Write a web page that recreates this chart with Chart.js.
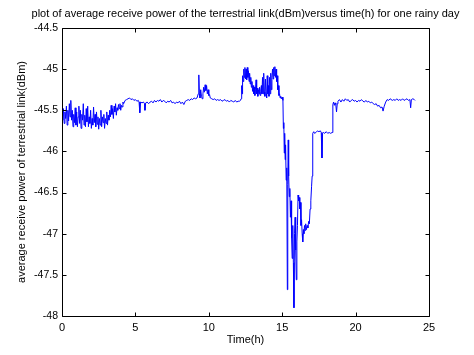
<!DOCTYPE html>
<html>
<head>
<meta charset="utf-8">
<script src="https://cdn.jsdelivr.net/npm/chart.js@4.4.1/dist/chart.umd.min.js"></script>
<style>
html,body{margin:0;padding:0;background:#fff;}
#c{display:block;}
</style>
</head>
<body>
<canvas id="c" width="474" height="355"></canvas>
<script>
const chartTitle = 'plot of average receive power of the terrestrial link(dBm)versus time(h) for one rainy day';
const xTitle = 'Time(h)';
const yTitle = 'average receive power of terrestrial link(dBm)';
const xTicks = [0, 5, 10, 15, 20, 25];
const yTicks = [-48, -47.5, -47, -46.5, -46, -45.5, -45, -44.5];

// time (h)
const times = [
0.00,0.05,0.10,0.15,0.20,0.25,0.30,0.35,0.40,0.45,0.50,0.55,0.60,0.65,0.70,0.75,0.80,0.85,0.90,0.95,
1.00,1.05,1.10,1.15,1.20,1.25,1.30,1.35,1.40,1.45,1.50,1.55,1.60,1.65,1.70,1.75,1.80,1.85,1.90,1.95,
2.00,2.05,2.10,2.15,2.20,2.25,2.30,2.35,2.40,2.45,2.50,2.55,2.60,2.65,2.70,2.75,2.80,2.85,2.90,2.95,
3.00,3.05,3.10,3.15,3.20,3.25,3.30,3.35,3.40,3.45,3.50,3.55,3.60,3.65,3.70,3.75,3.80,3.85,3.90,3.95,
4.00,4.05,4.10,4.15,4.20,4.30,4.40,4.50,
4.6,4.7,4.8,4.9,5.0,5.1,5.2,5.25,5.3,5.35,5.45,5.55,5.62,5.65,5.7,5.8,5.9,6.0,6.1,6.2,6.3,6.4,6.5,6.6,6.7,6.8,6.9,
7.0,7.1,7.2,7.3,7.4,7.5,7.6,7.7,7.8,7.9,8.0,8.1,8.2,8.3,8.4,8.5,8.6,8.7,8.8,8.9,9.0,9.1,9.2,
9.28,9.32,9.36,9.4,9.45,9.5,9.55,9.6,9.65,9.7,9.75,9.8,9.85,9.9,9.95,10.0,10.05,10.1,
10.2,10.3,10.4,10.5,10.6,10.7,10.8,10.9,11.0,11.1,11.2,11.3,11.4,11.5,11.6,11.7,11.8,11.9,12.0,12.1,
12.15,12.2,12.24,12.27,12.3,12.34,12.38,12.42,12.46,12.5,12.54,12.58,12.62,12.66,12.7,12.74,12.78,12.82,12.86,12.9,
12.94,12.98,13.02,13.06,13.1,13.14,13.18,13.22,13.26,13.3,13.34,13.38,13.42,13.46,13.5,13.54,13.58,13.62,13.66,13.7,
13.74,13.78,13.82,13.86,13.9,13.94,13.98,14.02,14.06,14.1,14.14,14.18,14.22,14.26,14.3,14.34,14.38,14.42,14.46,14.5,
14.54,14.58,14.62,14.66,14.7,14.74,14.78,14.82,14.86,14.9,14.95,15.0,15.05,
15.08,15.11,15.14,15.17,15.20,15.23,15.27,15.31,15.35,15.38,15.41,15.44,15.48,15.52,15.56,15.60,15.64,15.68,15.72,15.76,
15.80,15.84,15.88,15.92,15.96,16.00,16.04,16.08,16.12,16.16,16.20,16.24,16.28,16.32,16.36,16.40,16.44,16.48,16.52,16.56,
16.60,16.65,16.70,16.75,16.80,16.85,16.90,16.95,17.00,17.04,17.08,
17.15,17.2,17.3,17.4,17.5,17.6,17.66,17.71,17.75,17.8,17.9,18.0,18.1,18.2,18.3,18.4,18.44,
18.46,18.5,18.55,18.6,18.65,18.7,18.75,18.8,18.9,19.0,19.1,19.2,19.3,19.4,19.5,19.6,19.7,19.8,19.9,
20.0,20.1,20.2,20.3,20.4,20.5,20.6,20.7,20.8,20.9,21.0,21.1,21.2,21.3,21.4,21.5,21.6,21.7,21.8,21.87,21.95,
22.05,22.15,22.25,22.35,22.5,22.6,22.7,22.8,22.9,23.0,23.1,23.2,23.3,23.4,23.5,23.6,23.7,23.75,23.8,23.9,24.0,24.05
];

// average receive power (dBm)
const power = [
-45.55,-45.62,-45.48,-45.66,-45.52,-45.60,-45.45,-45.68,-45.50,-45.63,-45.42,-45.58,-45.38,-45.62,-45.50,-45.70,-45.55,-45.65,-45.47,-45.68,
-45.52,-45.70,-45.58,-45.45,-45.66,-45.50,-45.72,-45.55,-45.62,-45.42,-45.68,-45.56,-45.70,-45.48,-45.64,-45.45,-45.70,-45.58,-45.66,-45.50,
-45.72,-45.60,-45.68,-45.46,-45.65,-45.55,-45.70,-45.52,-45.67,-45.58,-45.73,-45.60,-45.68,-45.50,-45.70,-45.58,-45.65,-45.55,-45.72,-45.60,
-45.66,-45.52,-45.68,-45.56,-45.62,-45.50,-45.58,-45.44,-45.55,-45.48,-45.60,-45.45,-45.52,-45.42,-45.56,-45.47,-45.50,-45.43,-45.48,-45.42,
-45.50,-45.44,-45.46,-45.40,-45.42,-45.38,-45.37,-45.36,
-45.35,-45.37,-45.36,-45.38,-45.37,-45.39,-45.38,-45.40,-45.53,-45.40,-45.41,-45.40,-45.42,-45.50,-45.41,-45.40,-45.42,-45.40,-45.39,-45.41,-45.38,-45.40,-45.38,-45.39,-45.37,-45.40,-45.38,
-45.39,-45.41,-45.39,-45.40,-45.38,-45.41,-45.40,-45.42,-45.40,-45.41,-45.39,-45.42,-45.40,-45.43,-45.39,-45.38,-45.37,-45.38,-45.36,-45.37,-45.35,-45.36,-45.35,
-45.30,-45.07,-45.30,-45.35,-45.25,-45.33,-45.36,-45.30,-45.22,-45.28,-45.19,-45.26,-45.20,-45.30,-45.25,-45.32,-45.31,-45.35,
-45.36,-45.37,-45.36,-45.38,-45.37,-45.38,-45.37,-45.39,-45.38,-45.37,-45.39,-45.38,-45.40,-45.38,-45.39,-45.40,-45.38,-45.40,-45.39,-45.39,
-45.38,-45.36,-45.20,-45.30,-45.08,-45.15,-45.00,-45.10,-44.98,-45.12,-45.00,-45.13,-44.98,-45.10,-45.02,-45.15,-45.05,-45.18,-45.10,-45.22,
-45.15,-45.27,-45.20,-45.30,-45.22,-45.32,-45.25,-45.13,-45.30,-45.23,-45.33,-45.25,-45.30,-45.22,-45.32,-45.27,-45.20,-45.30,-45.10,-45.30,
-45.05,-45.28,-45.33,-45.12,-45.30,-45.35,-45.08,-45.30,-45.20,-45.33,-45.10,-45.30,-45.05,-45.25,-45.10,-45.00,-45.12,-44.98,-45.08,-44.97,
-45.10,-45.00,-45.15,-45.08,-45.25,-45.20,-45.32,-45.30,-45.35,-45.33,-45.36,-45.34,-45.38,
-45.72,-45.65,-46.02,-45.78,-46.10,-45.92,-46.35,-46.20,-47.68,-46.40,-45.86,-46.30,-46.55,-46.45,-46.80,-46.60,-47.05,-47.30,-46.90,-47.35,
-47.90,-47.00,-46.80,-47.20,-47.56,-47.10,-46.90,-46.53,-46.60,-46.56,-46.70,-46.62,-46.90,-46.83,-47.00,-47.10,-46.95,-47.00,-46.90,-46.96,
-46.88,-46.95,-46.90,-46.93,-46.85,-46.88,-46.70,-46.60,-46.43,-46.30,-45.78,
-45.76,-45.78,-45.77,-45.75,-45.76,-45.75,-45.77,-46.08,-45.78,-45.77,-45.78,-45.76,-45.78,-45.77,-45.78,-45.77,-45.76,
-45.43,-45.40,-45.44,-45.41,-45.43,-45.52,-45.42,-45.39,-45.37,-45.40,-45.37,-45.39,-45.36,-45.38,-45.37,-45.40,-45.38,-45.37,-45.39,
-45.38,-45.40,-45.38,-45.39,-45.37,-45.39,-45.40,-45.38,-45.40,-45.39,-45.41,-45.40,-45.42,-45.43,-45.42,-45.45,-45.44,-45.47,-45.46,-45.51,-45.45,
-45.40,-45.37,-45.38,-45.36,-45.38,-45.37,-45.38,-45.36,-45.38,-45.37,-45.38,-45.36,-45.38,-45.37,-45.36,-45.38,-45.37,-45.47,-45.37,-45.36,-45.37,-45.38
];

const FONT = 'Liberation Sans, Arial, Helvetica, sans-serif';

const boxPlugin = {
  id: 'matlabBox',
  afterDatasetsDraw(chart) {
    const {ctx, chartArea: a, scales} = chart;
    const L = Math.round(a.left) + 0.5, R = Math.round(a.right) + 0.5;
    const T = Math.round(a.top) + 0.5, B = Math.round(a.bottom) + 0.5;
    const tl = 4;
    ctx.save();
    ctx.strokeStyle = '#000';
    ctx.lineWidth = 1;
    ctx.beginPath();
    ctx.rect(L, T, R - L, B - T);
    xTicks.forEach(v => {
      const px = Math.round(scales.x.getPixelForValue(v)) + 0.5;
      ctx.moveTo(px, B); ctx.lineTo(px, B - tl);
      ctx.moveTo(px, T); ctx.lineTo(px, T + tl);
    });
    yTicks.forEach(v => {
      const py = Math.round(scales.y.getPixelForValue(v)) + 0.5;
      ctx.moveTo(L, py); ctx.lineTo(L + tl, py);
      ctx.moveTo(R, py); ctx.lineTo(R - tl, py);
    });
    ctx.stroke();
    // title centred over the axes box
    ctx.fillStyle = '#000';
    ctx.font = '11px ' + FONT;
    ctx.textAlign = 'center';
    ctx.textBaseline = 'middle';
    ctx.fillText(chartTitle, (a.left + a.right) / 2, 14);
    ctx.restore();
  }
};

new Chart(document.getElementById('c'), {
  type: 'line',
  data: {
    datasets: [{
      data: times.map((t, i) => ({x: t, y: power[i]})),
      borderColor: '#0000ff',
      borderWidth: 1,
      pointRadius: 0,
      tension: 0,
      fill: false
    }]
  },
  options: {
    responsive: false,
    animation: false,
    events: [],
    layout: {padding: {left: 0, right: 45, top: 28, bottom: 0}},
    plugins: {
      legend: {display: false},
      tooltip: {enabled: false},
      title: {display: false}
    },
    scales: {
      x: {
        type: 'linear', min: 0, max: 25,
        afterBuildTicks: s => { s.ticks = xTicks.map(v => ({value: v})); },
        ticks: {color: '#000', font: {family: FONT, size: 11}, padding: 5, maxRotation: 0, autoSkip: false,
                callback: v => String(v)},
        grid: {display: false, drawTicks: false},
        border: {display: false},
        title: {display: true, text: xTitle, color: '#000', font: {family: FONT, size: 11}, padding: {top: 0, bottom: 8}},
        afterFit: s => { s.height = 39; }
      },
      y: {
        type: 'linear', min: -48, max: -44.5,
        afterBuildTicks: s => { s.ticks = yTicks.map(v => ({value: v})); },
        ticks: {color: '#000', font: {family: FONT, size: 10.5}, padding: 4, autoSkip: false,
                callback: v => String(v)},
        grid: {display: false, drawTicks: false},
        border: {display: false},
        title: {display: true, text: yTitle, color: '#000', font: {family: FONT, size: 11}, padding: {top: 15.5, bottom: 0}},
        afterFit: s => { s.width = 62; }
      }
    }
  },
  plugins: [boxPlugin]
});
</script>
</body>
</html>
